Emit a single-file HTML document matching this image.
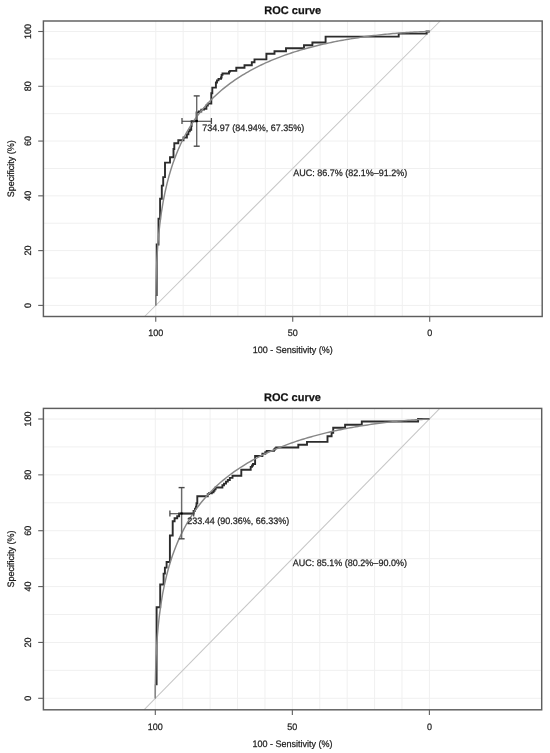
<!DOCTYPE html>
<html><head><meta charset="utf-8"><title>ROC curve</title>
<style>
html,body{margin:0;padding:0;background:#fff;}
body{width:550px;height:753px;overflow:hidden;}
svg{display:block;font-family:"Liberation Sans", Arial, sans-serif;}
text{stroke:#2a2a2a;stroke-width:0.25px;paint-order:stroke;text-rendering:geometricPrecision;}
</style></head>
<body>
<svg width="550" height="753" viewBox="0 0 550 753">
<rect width="550" height="753" fill="#fff"/>
<g stroke="#f0f0f0" stroke-width="1.0" fill="none">
<line x1="43.40" y1="305.40" x2="542.20" y2="305.40"/>
<line x1="429.70" y1="21.00" x2="429.70" y2="316.50"/>
<line x1="43.40" y1="278.01" x2="542.20" y2="278.01"/>
<line x1="402.31" y1="21.00" x2="402.31" y2="316.50"/>
<line x1="43.40" y1="250.62" x2="542.20" y2="250.62"/>
<line x1="374.91" y1="21.00" x2="374.91" y2="316.50"/>
<line x1="43.40" y1="223.23" x2="542.20" y2="223.23"/>
<line x1="347.51" y1="21.00" x2="347.51" y2="316.50"/>
<line x1="43.40" y1="195.84" x2="542.20" y2="195.84"/>
<line x1="320.12" y1="21.00" x2="320.12" y2="316.50"/>
<line x1="43.40" y1="168.45" x2="542.20" y2="168.45"/>
<line x1="292.73" y1="21.00" x2="292.73" y2="316.50"/>
<line x1="43.40" y1="141.06" x2="542.20" y2="141.06"/>
<line x1="265.33" y1="21.00" x2="265.33" y2="316.50"/>
<line x1="43.40" y1="113.67" x2="542.20" y2="113.67"/>
<line x1="237.93" y1="21.00" x2="237.93" y2="316.50"/>
<line x1="43.40" y1="86.28" x2="542.20" y2="86.28"/>
<line x1="210.54" y1="21.00" x2="210.54" y2="316.50"/>
<line x1="43.40" y1="58.89" x2="542.20" y2="58.89"/>
<line x1="183.14" y1="21.00" x2="183.14" y2="316.50"/>
<line x1="43.40" y1="31.50" x2="542.20" y2="31.50"/>
<line x1="155.75" y1="21.00" x2="155.75" y2="316.50"/>
</g>
<line x1="144.65" y1="316.50" x2="440.20" y2="21.00" stroke="#c6c6c6" stroke-width="1.05"/>
<line x1="155.75" y1="295" x2="155.75" y2="305.4" stroke="#333" stroke-width="1.0"/>
<path d="M155.75,295 H156.7 V244.5 H158.5 V218.7 H160.1 V198.8 H161.8 V185.6 H163.2 V177.1 H165 V162.6 H170 V157.3 H173.5 V149 H174.3 V143.2 H178.3 V140.3 H183.5 V137.5 H186.9 V134.4 H188.4 V131.4 H189.8 V129.8 H191.2 V126 H191.6 V121.3 H196.6 V112.4 H199 V111.5 H201.3 V109.6 H204 V108.8 H206.4 V105.5 H207.8 V103.6 H211.3 V93.2 H212.3 V87.6 H215.9 V82.5 H217 V80.4 H218.5 V78.9 H221 V77.5 H221.6 V74.9 H222.5 V73.5 H229 V71.6 H230.1 V70.9 H236.3 V67.8 H244.5 V65.2 H251.8 V62.3 H254.5 V59.4 H266.4 V53.8 H274.5 V51.2 H286 V48.2 H304 V45.3 H312.4 V42.5 H325.6 V36.6 H398.7 V33.6 H426.6 V31.5 H429.7" fill="none" stroke="#2c2c2c" stroke-width="1.9" stroke-linejoin="miter" stroke-linecap="butt"/>
<path d="M155.80,305.40 L155.80,305.24 L155.80,305.21 L155.80,305.18 L155.80,305.13 L155.80,305.08 L155.80,305.01 L155.80,304.94 L155.80,304.84 L155.80,304.74 L155.80,304.61 L155.80,304.45 L155.80,304.27 L155.80,304.05 L155.80,303.79 L155.80,303.49 L155.80,303.13 L155.80,302.70 L155.81,302.20 L155.81,301.60 L155.81,300.91 L155.81,300.09 L155.82,299.13 L155.83,298.00 L155.84,296.69 L155.85,295.16 L155.87,293.37 L155.89,291.30 L155.93,288.90 L155.98,286.12 L156.04,282.91 L156.13,279.22 L156.25,274.99 L156.41,270.14 L156.64,264.62 L156.95,258.35 L157.37,251.25 L157.94,243.26 L158.73,234.30 L159.81,224.30 L161.28,213.22 L163.21,201.46 L165.14,191.73 L167.07,183.38 L169.00,176.05 L170.93,169.50 L172.86,163.58 L174.80,158.17 L176.73,153.19 L178.66,148.58 L180.59,144.28 L182.52,140.26 L184.45,136.49 L186.38,132.93 L188.31,129.57 L190.24,126.39 L192.18,123.36 L194.11,120.48 L196.04,117.73 L197.97,115.10 L199.90,112.59 L201.83,110.18 L203.76,107.87 L205.69,105.64 L207.62,103.51 L209.56,101.45 L211.49,99.47 L213.42,97.56 L215.35,95.71 L217.28,93.92 L219.21,92.20 L221.14,90.53 L223.07,88.91 L225.00,87.35 L226.94,85.83 L228.87,84.36 L230.80,82.93 L232.73,81.54 L234.66,80.20 L236.59,78.89 L238.52,77.62 L240.45,76.38 L242.38,75.18 L244.31,74.01 L246.25,72.87 L248.18,71.76 L250.11,70.68 L252.04,69.62 L253.97,68.60 L255.90,67.60 L257.83,66.62 L259.76,65.67 L261.69,64.74 L263.63,63.84 L265.56,62.95 L267.49,62.09 L269.42,61.25 L271.35,60.43 L273.28,59.63 L275.21,58.84 L277.14,58.08 L279.07,57.33 L281.01,56.60 L282.94,55.89 L284.87,55.19 L286.80,54.51 L288.73,53.84 L290.66,53.19 L292.59,52.56 L294.52,51.93 L296.45,51.33 L298.39,50.73 L300.32,50.15 L302.25,49.58 L304.18,49.03 L306.11,48.49 L308.04,47.95 L309.97,47.44 L311.90,46.93 L313.83,46.43 L315.77,45.95 L317.70,45.47 L319.63,45.01 L321.56,44.55 L323.49,44.11 L325.42,43.68 L327.35,43.25 L329.28,42.84 L331.21,42.44 L333.15,42.04 L335.08,41.65 L337.01,41.28 L338.94,40.91 L340.87,40.55 L342.80,40.19 L344.73,39.85 L346.66,39.51 L348.59,39.19 L350.52,38.87 L352.46,38.55 L354.39,38.25 L356.32,37.95 L358.25,37.66 L360.18,37.38 L362.11,37.10 L364.04,36.84 L365.97,36.57 L367.90,36.32 L369.84,36.07 L371.77,35.83 L373.70,35.59 L375.63,35.37 L377.56,35.14 L379.49,34.93 L381.42,34.72 L383.35,34.52 L385.28,34.32 L387.22,34.13 L389.15,33.95 L391.08,33.77 L393.01,33.59 L394.94,33.43 L396.87,33.27 L398.80,33.11 L400.73,32.96 L402.66,32.82 L404.60,32.68 L406.53,32.55 L408.46,32.43 L410.39,32.31 L412.32,32.19 L414.25,32.09 L416.18,31.99 L418.11,31.89 L420.04,31.81 L421.98,31.73 L423.91,31.65 L425.84,31.59 L427.77,31.54 L429.70,31.50 L429.70,31.50" fill="none" stroke="#878787" stroke-width="1.45" stroke-linejoin="round"/>
<g stroke="#4a4a4a" stroke-width="1.1" fill="none"><line x1="182.0" y1="121.25" x2="211.4" y2="121.25" stroke="#333" stroke-width="1.0"/><line x1="182.0" y1="118.0" x2="182.0" y2="124.0" stroke-width="1.3"/><line x1="211.4" y1="118.0" x2="211.4" y2="124.0" stroke-width="1.3"/><line x1="196.7" y1="95.9" x2="196.7" y2="146.2" stroke="#6a6a6a" stroke-width="1.4"/><line x1="193.7" y1="95.9" x2="199.7" y2="95.9" stroke-width="1.4"/><line x1="193.7" y1="146.2" x2="199.7" y2="146.2" stroke-width="1.4"/></g>
<circle cx="196.7" cy="121.0" r="1.3" fill="#000"/>
<text x="202.30" y="131.20" fill="#1c1c1c" font-size="9.4" textLength="102.07" lengthAdjust="spacingAndGlyphs">734.97 (84.94%, 67.35%)</text>
<text x="293.23" y="176.05" fill="#1c1c1c" font-size="9.4" textLength="114.06" lengthAdjust="spacingAndGlyphs">AUC: 86.7% (82.1%–91.2%)</text>
<rect x="43.4" y="21.0" width="498.80" height="295.50" fill="none" stroke="#5e5e5e" stroke-width="1.45"/>
<g stroke="#5e5e5e" stroke-width="1.1">
<line x1="155.75" y1="316.50" x2="155.75" y2="321.70"/>
<line x1="292.73" y1="316.50" x2="292.73" y2="321.70"/>
<line x1="429.70" y1="316.50" x2="429.70" y2="321.70"/>
<line x1="38.20" y1="305.40" x2="43.40" y2="305.40"/>
<line x1="38.20" y1="250.62" x2="43.40" y2="250.62"/>
<line x1="38.20" y1="195.84" x2="43.40" y2="195.84"/>
<line x1="38.20" y1="141.06" x2="43.40" y2="141.06"/>
<line x1="38.20" y1="86.28" x2="43.40" y2="86.28"/>
<line x1="38.20" y1="31.50" x2="43.40" y2="31.50"/>
</g>
<g font-size="9.0" fill="#1c1c1c" text-anchor="middle">
<text x="155.75" y="336.2" font-size="9.4" textLength="15.02" lengthAdjust="spacingAndGlyphs">100</text>
<text x="292.73" y="336.2" font-size="9.4" textLength="10.01" lengthAdjust="spacingAndGlyphs">50</text>
<text x="429.70" y="336.2" font-size="9.4" textLength="5.01" lengthAdjust="spacingAndGlyphs">0</text>
<text transform="translate(31.2,305.40) rotate(-90)" font-size="9.4" textLength="5.01" lengthAdjust="spacingAndGlyphs">0</text>
<text transform="translate(31.2,250.62) rotate(-90)" font-size="9.4" textLength="10.01" lengthAdjust="spacingAndGlyphs">20</text>
<text transform="translate(31.2,195.84) rotate(-90)" font-size="9.4" textLength="10.01" lengthAdjust="spacingAndGlyphs">40</text>
<text transform="translate(31.2,141.06) rotate(-90)" font-size="9.4" textLength="10.01" lengthAdjust="spacingAndGlyphs">60</text>
<text transform="translate(31.2,86.28) rotate(-90)" font-size="9.4" textLength="10.01" lengthAdjust="spacingAndGlyphs">80</text>
<text transform="translate(31.2,31.50) rotate(-90)" font-size="9.4" textLength="15.02" lengthAdjust="spacingAndGlyphs">100</text>
</g>
<text x="292.80" y="353.0" fill="#1c1c1c" text-anchor="middle" font-size="9.4" textLength="80.02" lengthAdjust="spacingAndGlyphs">100 - Sensitivity (%)</text>
<text transform="translate(13.9,168.75) rotate(-90)" fill="#1c1c1c" text-anchor="middle" font-size="9.4" textLength="57.01" lengthAdjust="spacingAndGlyphs">Specificity (%)</text>
<text x="292.80" y="13.6" font-size="11.0" font-weight="bold" fill="#111" text-anchor="middle">ROC curve</text>
<g stroke="#f0f0f0" stroke-width="1.0" fill="none">
<line x1="43.40" y1="698.30" x2="541.70" y2="698.30"/>
<line x1="429.40" y1="408.40" x2="429.40" y2="709.80"/>
<line x1="43.40" y1="670.37" x2="541.70" y2="670.37"/>
<line x1="401.99" y1="408.40" x2="401.99" y2="709.80"/>
<line x1="43.40" y1="642.44" x2="541.70" y2="642.44"/>
<line x1="374.58" y1="408.40" x2="374.58" y2="709.80"/>
<line x1="43.40" y1="614.51" x2="541.70" y2="614.51"/>
<line x1="347.17" y1="408.40" x2="347.17" y2="709.80"/>
<line x1="43.40" y1="586.58" x2="541.70" y2="586.58"/>
<line x1="319.76" y1="408.40" x2="319.76" y2="709.80"/>
<line x1="43.40" y1="558.65" x2="541.70" y2="558.65"/>
<line x1="292.35" y1="408.40" x2="292.35" y2="709.80"/>
<line x1="43.40" y1="530.72" x2="541.70" y2="530.72"/>
<line x1="264.94" y1="408.40" x2="264.94" y2="709.80"/>
<line x1="43.40" y1="502.79" x2="541.70" y2="502.79"/>
<line x1="237.53" y1="408.40" x2="237.53" y2="709.80"/>
<line x1="43.40" y1="474.86" x2="541.70" y2="474.86"/>
<line x1="210.12" y1="408.40" x2="210.12" y2="709.80"/>
<line x1="43.40" y1="446.93" x2="541.70" y2="446.93"/>
<line x1="182.71" y1="408.40" x2="182.71" y2="709.80"/>
<line x1="43.40" y1="419.00" x2="541.70" y2="419.00"/>
<line x1="155.30" y1="408.40" x2="155.30" y2="709.80"/>
</g>
<line x1="144.01" y1="709.80" x2="439.80" y2="408.40" stroke="#c6c6c6" stroke-width="1.05"/>
<line x1="155.3" y1="684.4" x2="155.3" y2="698.3" stroke="#333" stroke-width="1.0"/>
<path d="M155.3,684.4 H156.6 V607.2 H160.2 V584.5 H163.6 V573.6 H164.9 V567.6 H166.6 V562 H169.9 V535.5 H172.7 V521.3 H174.6 V518.2 H177.2 V516.3 H179.1 V513.5 H193.6 V510.9 H195 V508.6 H196 V506.8 H196.5 V503.2 H197.3 V496.3 H207.7 V494.1 H209 V493.2 H211.8 V492.3 H213.5 V490.9 H214.5 V489.2 H215.6 V487.5 H222.4 V485.3 H224 V483.6 H226 V481.6 H227.8 V480 H229.8 V477.9 H232.5 V475.8 H241.3 V469.8 H250.7 V466.9 H252 V465.5 H253 V464 H255.1 V456 H262.4 V453.8 H265.3 V452.3 H266.7 V450.9 H274 V449.5 H275 V448.4 H276.2 V447.5 H298.3 V444.7 H307 V441.9 H327.5 V436.2 H331.6 V432.9 H333.2 V427.7 H345.1 V424.7 H361.8 V421.5 H418.1 V418.9 H429.4" fill="none" stroke="#2c2c2c" stroke-width="1.9" stroke-linejoin="miter" stroke-linecap="butt"/>
<path d="M155.30,698.30 L155.30,698.10 L155.30,698.07 L155.30,698.02 L155.30,697.97 L155.30,697.90 L155.30,697.83 L155.30,697.74 L155.30,697.63 L155.30,697.51 L155.30,697.36 L155.30,697.19 L155.30,696.98 L155.30,696.74 L155.30,696.45 L155.30,696.11 L155.30,695.72 L155.30,695.25 L155.31,694.71 L155.31,694.07 L155.31,693.32 L155.31,692.45 L155.32,691.43 L155.33,690.25 L155.34,688.87 L155.35,687.28 L155.37,685.42 L155.39,683.29 L155.43,680.82 L155.48,677.97 L155.54,674.71 L155.63,670.96 L155.75,666.68 L155.91,661.81 L156.14,656.27 L156.45,649.99 L156.87,642.91 L157.44,634.95 L158.23,626.04 L159.31,616.11 L160.78,605.12 L162.71,593.47 L164.65,583.82 L166.58,575.53 L168.51,568.25 L170.44,561.74 L172.38,555.84 L174.31,550.46 L176.24,545.49 L178.17,540.89 L180.11,536.60 L182.04,532.58 L183.97,528.80 L185.90,525.24 L187.84,521.86 L189.77,518.66 L191.70,515.62 L193.63,512.71 L195.57,509.94 L197.50,507.29 L199.43,504.75 L201.36,502.32 L203.30,499.98 L205.23,497.72 L207.16,495.56 L209.09,493.47 L211.03,491.45 L212.96,489.50 L214.89,487.62 L216.82,485.80 L218.76,484.04 L220.69,482.33 L222.62,480.67 L224.55,479.07 L226.49,477.51 L228.42,476.00 L230.35,474.53 L232.28,473.10 L234.22,471.71 L236.15,470.36 L238.08,469.05 L240.01,467.77 L241.95,466.52 L243.88,465.31 L245.81,464.12 L247.74,462.97 L249.68,461.85 L251.61,460.75 L253.54,459.68 L255.47,458.63 L257.41,457.61 L259.34,456.62 L261.27,455.65 L263.20,454.70 L265.14,453.77 L267.07,452.86 L269.00,451.98 L270.93,451.11 L272.87,450.26 L274.80,449.44 L276.73,448.63 L278.66,447.83 L280.60,447.06 L282.53,446.30 L284.46,445.56 L286.39,444.83 L288.33,444.12 L290.26,443.43 L292.19,442.75 L294.12,442.08 L296.06,441.43 L297.99,440.79 L299.92,440.17 L301.85,439.56 L303.79,438.96 L305.72,438.37 L307.65,437.80 L309.58,437.23 L311.52,436.68 L313.45,436.14 L315.38,435.62 L317.31,435.10 L319.25,434.59 L321.18,434.10 L323.11,433.61 L325.04,433.14 L326.98,432.67 L328.91,432.21 L330.84,431.77 L332.77,431.33 L334.71,430.90 L336.64,430.49 L338.57,430.08 L340.50,429.68 L342.44,429.28 L344.37,428.90 L346.30,428.52 L348.23,428.16 L350.17,427.80 L352.10,427.45 L354.03,427.10 L355.96,426.77 L357.90,426.44 L359.83,426.12 L361.76,425.80 L363.69,425.50 L365.63,425.20 L367.56,424.91 L369.49,424.62 L371.42,424.34 L373.36,424.07 L375.29,423.81 L377.22,423.55 L379.15,423.30 L381.09,423.06 L383.02,422.82 L384.95,422.59 L386.88,422.36 L388.82,422.14 L390.75,421.93 L392.68,421.73 L394.61,421.53 L396.55,421.33 L398.48,421.15 L400.41,420.97 L402.34,420.79 L404.28,420.63 L406.21,420.46 L408.14,420.31 L410.07,420.16 L412.01,420.02 L413.94,419.88 L415.87,419.76 L417.80,419.64 L419.74,419.52 L421.67,419.42 L423.60,419.32 L425.53,419.23 L427.47,419.16 L429.40,419.10 L429.40,419.10" fill="none" stroke="#878787" stroke-width="1.45" stroke-linejoin="round"/>
<g stroke="#4a4a4a" stroke-width="1.1" fill="none"><line x1="169.9" y1="513.75" x2="193.7" y2="513.75" stroke="#333" stroke-width="1.0"/><line x1="169.9" y1="510.5" x2="169.9" y2="516.5" stroke-width="1.3"/><line x1="193.7" y1="510.5" x2="193.7" y2="516.5" stroke-width="1.3"/><line x1="181.6" y1="487.6" x2="181.6" y2="538.8" stroke="#6a6a6a" stroke-width="1.4"/><line x1="178.6" y1="487.6" x2="184.6" y2="487.6" stroke-width="1.4"/><line x1="178.6" y1="538.8" x2="184.6" y2="538.8" stroke-width="1.4"/></g>
<circle cx="181.6" cy="513.5" r="1.3" fill="#000"/>
<text x="187.20" y="523.70" fill="#1c1c1c" font-size="9.4" textLength="102.07" lengthAdjust="spacingAndGlyphs">233.44 (90.36%, 66.33%)</text>
<text x="292.85" y="566.25" fill="#1c1c1c" font-size="9.4" textLength="114.06" lengthAdjust="spacingAndGlyphs">AUC: 85.1% (80.2%–90.0%)</text>
<rect x="43.4" y="408.4" width="498.30" height="301.40" fill="none" stroke="#5e5e5e" stroke-width="1.45"/>
<g stroke="#5e5e5e" stroke-width="1.1">
<line x1="155.30" y1="709.80" x2="155.30" y2="715.00"/>
<line x1="292.35" y1="709.80" x2="292.35" y2="715.00"/>
<line x1="429.40" y1="709.80" x2="429.40" y2="715.00"/>
<line x1="38.20" y1="698.30" x2="43.40" y2="698.30"/>
<line x1="38.20" y1="642.44" x2="43.40" y2="642.44"/>
<line x1="38.20" y1="586.58" x2="43.40" y2="586.58"/>
<line x1="38.20" y1="530.72" x2="43.40" y2="530.72"/>
<line x1="38.20" y1="474.86" x2="43.40" y2="474.86"/>
<line x1="38.20" y1="419.00" x2="43.40" y2="419.00"/>
</g>
<g font-size="9.0" fill="#1c1c1c" text-anchor="middle">
<text x="155.30" y="730.0" font-size="9.4" textLength="15.02" lengthAdjust="spacingAndGlyphs">100</text>
<text x="292.35" y="730.0" font-size="9.4" textLength="10.01" lengthAdjust="spacingAndGlyphs">50</text>
<text x="429.40" y="730.0" font-size="9.4" textLength="5.01" lengthAdjust="spacingAndGlyphs">0</text>
<text transform="translate(31.2,698.30) rotate(-90)" font-size="9.4" textLength="5.01" lengthAdjust="spacingAndGlyphs">0</text>
<text transform="translate(31.2,642.44) rotate(-90)" font-size="9.4" textLength="10.01" lengthAdjust="spacingAndGlyphs">20</text>
<text transform="translate(31.2,586.58) rotate(-90)" font-size="9.4" textLength="10.01" lengthAdjust="spacingAndGlyphs">40</text>
<text transform="translate(31.2,530.72) rotate(-90)" font-size="9.4" textLength="10.01" lengthAdjust="spacingAndGlyphs">60</text>
<text transform="translate(31.2,474.86) rotate(-90)" font-size="9.4" textLength="10.01" lengthAdjust="spacingAndGlyphs">80</text>
<text transform="translate(31.2,419.00) rotate(-90)" font-size="9.4" textLength="15.02" lengthAdjust="spacingAndGlyphs">100</text>
</g>
<text x="292.55" y="747.0" fill="#1c1c1c" text-anchor="middle" font-size="9.4" textLength="80.02" lengthAdjust="spacingAndGlyphs">100 - Sensitivity (%)</text>
<text transform="translate(13.9,559.10) rotate(-90)" fill="#1c1c1c" text-anchor="middle" font-size="9.4" textLength="57.01" lengthAdjust="spacingAndGlyphs">Specificity (%)</text>
<text x="292.55" y="400.9" font-size="11.0" font-weight="bold" fill="#111" text-anchor="middle">ROC curve</text>
</svg>
</body></html>
